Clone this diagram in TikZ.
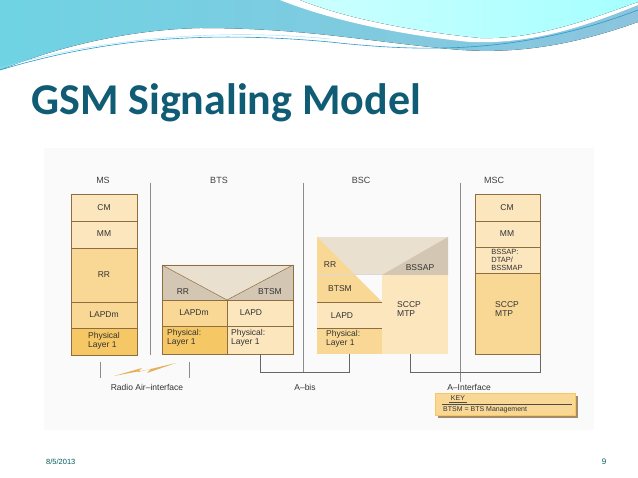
\documentclass[tikz,border=0pt]{standalone}
\usepackage{fontspec}
\setmainfont{Liberation Sans}
\newfontfamily\titlefont{Carlito}
\begin{document}
\begin{tikzpicture}[x=1pt,y=-1pt,
  lay/.style={draw=layline,line width=0.5pt},
  lbl/.style={font=\fontsize{8.5}{9}\selectfont,text=black!80,inner sep=0pt},
  hdr/.style={font=\fontsize{9}{10}\selectfont,text=black!75,inner sep=0pt},
  vline/.style={draw=black!45,line width=0.5pt},
  conn/.style={draw=black!60,line width=0.5pt}]
\definecolor{o1}{HTML}{FBE6BE}
\definecolor{o2}{HTML}{F9D896}
\definecolor{o3}{HTML}{F6C765}
\definecolor{g1}{HTML}{E9E0D0}
\definecolor{g2}{HTML}{D3C6B2}
\definecolor{layline}{HTML}{8E6E40}
\definecolor{titlec}{HTML}{0F5C74}
\definecolor{bandL}{HTML}{6FD3E3}
\definecolor{bandR}{HTML}{8CC4DE}
\useasboundingbox (0,0) rectangle (638,478);
\fill[white] (0,0) rectangle (638,478);
% banner
\fill[left color=bandL,right color=bandR] (0,0) -- (638,0) -- (638,22) .. controls (560,50) and (500,55) .. (440,48) .. controls (360,40) and (300,28) .. (200,28) .. controls (120,30) and (50,50) .. (0,70) -- cycle;
\fill[white] (280,0) .. controls (330,20) and (400,35) .. (470,42) .. controls (540,45) and (600,20) .. (638,5) -- (638,0) -- cycle;
\fill[left color=cyan!20,right color=cyan!35] (300,0) .. controls (350,20) and (420,32) .. (480,38) .. controls (540,40) and (600,15) .. (638,2) -- (638,0) -- cycle;
\draw[cyan!60!teal,line width=0.6pt] (0,70) .. controls (100,40) and (200,30) .. (330,42) .. controls (420,52) and (520,55) .. (638,10);
\draw[cyan!40,line width=0.4pt] (0,68) .. controls (100,38) and (220,28) .. (330,39);
% title
\node[anchor=base west,inner sep=0pt,font=\titlefont\bfseries\fontsize{44}{48}\selectfont,text=titlec] (title) at (31,115) {GSM Signaling Model};
% panel
\fill[black!2] (44,148) rectangle (594,430);
% headers
\node[hdr] (hms) at (103,180) {MS};
\node[hdr] (hbts) at (219,180) {BTS};
\node[hdr] (hbsc) at (361,180) {BSC};
\node[hdr] (hmsc) at (494,180) {MSC};
\draw[vline] (150,183) -- (150,355);
\draw[vline] (303,183) -- (303,372);
\draw[vline] (460,183) -- (460,382);
% MS stack
\filldraw[lay,fill=o1] (71,194) rectangle (137,221);
\filldraw[lay,fill=o1] (71,221) rectangle (137,248);
\filldraw[lay,fill=o2] (71,248) rectangle (137,302);
\filldraw[lay,fill=o2] (71,302) rectangle (137,328);
\filldraw[lay,fill=o3] (71,328) rectangle (137,355);
\node[lbl] (mscm) at (104,208) {CM};
\node[lbl] (msmm) at (104,234) {MM};
\node[lbl] (msrr) at (104,275) {RR};
\node[lbl] (mslapdm) at (104,315) {LAPDm};
\node[lbl,align=left] (msphy) at (104,341) {Physical\\Layer 1};
% BTS
\fill[g2] (162,265) rectangle (293,300);
\fill[g1] (162,265) -- (293,265) -- (227,300) -- cycle;
\draw[lay] (162,265) -- (227,300) -- (293,265);
\filldraw[lay,fill=o2] (162,300) rectangle (227,326);
\filldraw[lay,fill=o1] (227,300) rectangle (293,326);
\filldraw[lay,fill=o3] (162,326) rectangle (227,354);
\filldraw[lay,fill=o1] (227,326) rectangle (293,354);
\draw[lay] (162,265) rectangle (293,354);
\node[lbl] (btsrr) at (183,292) {RR};
\node[lbl] (btsbtsm) at (270,292) {BTSM};
\node[lbl] (btslapdm) at (194,313) {LAPDm};
\node[lbl] (btslapd) at (251,313) {LAPD};
\node[lbl,align=left,anchor=north west] (btsphy1) at (167,329) {Physical:\\Layer 1};
\node[lbl,align=left,anchor=north west] (btsphy2) at (231,329) {Physical:\\Layer 1};
% BSC
\fill[g1] (317,237) rectangle (448,275);
\fill[o2] (317,237) -- (382,302) -- (317,302) -- cycle;
\fill[g2] (448,237) -- (382,275) -- (448,275) -- cycle;
\fill[o1] (382,275) rectangle (448,354);
\fill[o1] (317,302) rectangle (382,328);
\fill[o2] (317,328) rectangle (382,354);
\draw[black!15] (317,274) -- (382,274);
\draw[lay] (317,302) -- (382,302);
\draw[lay] (317,328) -- (382,328);
\node[lbl] (bscrr) at (330,265) {RR};
\node[lbl] (bscbssap) at (420,268) {BSSAP};
\node[lbl] (bscbtsm) at (340,289) {BTSM};
\node[lbl] (bsclapd) at (342,316) {LAPD};
\node[lbl,align=left,anchor=north west] (bscphy) at (326,330) {Physical:\\Layer 1};
\node[lbl,align=left] (bscsccp) at (409,309) {SCCP\\MTP};
% MSC
\filldraw[lay,fill=o1] (475,194) rectangle (540,221);
\filldraw[lay,fill=o1] (475,221) rectangle (540,247);
\filldraw[lay,fill=o1] (475,247) rectangle (540,273);
\filldraw[lay,fill=o2] (475,273) rectangle (540,354);
\node[lbl] (msccm) at (507,208) {CM};
\node[lbl] (mscmm) at (507,234) {MM};
\node[lbl,align=left,font=\fontsize{7.5}{8}\selectfont] (mscbssap) at (507,260) {BSSAP:\\DTAP/\\BSSMAP};
\node[lbl,align=left] (mscsccp) at (507,309) {SCCP\\MTP};
% air interface
\draw[vline] (100,362) -- (100,378);
\draw[vline] (189,362) -- (189,378);
\fill[o3!70!brown] (114,376) -- (142,368) -- (138,372) -- (176,363) -- (147,373) -- (151,369) -- cycle;
\node[lbl] (air) at (147,387) {Radio Air--interface};
% A-bis
\coordinate (abis1) at (260,354);
\coordinate (abis2) at (349,354);
\draw[conn] (abis1) -- (260,372) -- (349,372) -- (abis2);
\node[lbl] (abis) at (305,387) {A--bis};
% A-interface
\coordinate (ai1) at (410,354);
\coordinate (ai2) at (540,354);
\draw[conn] (ai1) -- (410,372) -- (540,372) -- (ai2);
\node[lbl] (aint) at (469,387) {A--Interface};
% key
\fill[layline!80] (438,396) rectangle (578,418);
\filldraw[draw=o3,fill=o2] (435,393) rectangle (575,415);
\draw[black!70,line width=0.4pt] (442,404) -- (572,404);
\node[lbl,font=\fontsize{7}{7.5}\selectfont] (key) at (458,398.5) {KEY};
\draw[black!70,line width=0.3pt] (449,402) -- (467,402);
\node[lbl,font=\fontsize{7}{7.5}\selectfont,anchor=west] (keytxt) at (443,409.5) {BTSM = BTS Management};
% footer
\node[anchor=west,inner sep=0pt,font=\fontsize{7.5}{8}\selectfont,text=teal!70!black] (date) at (46,462) {8/5/2013};
\node[inner sep=0pt,font=\fontsize{8}{9}\selectfont,text=teal!70!black] (pg) at (604,462) {9};
\end{tikzpicture}
\end{document}
